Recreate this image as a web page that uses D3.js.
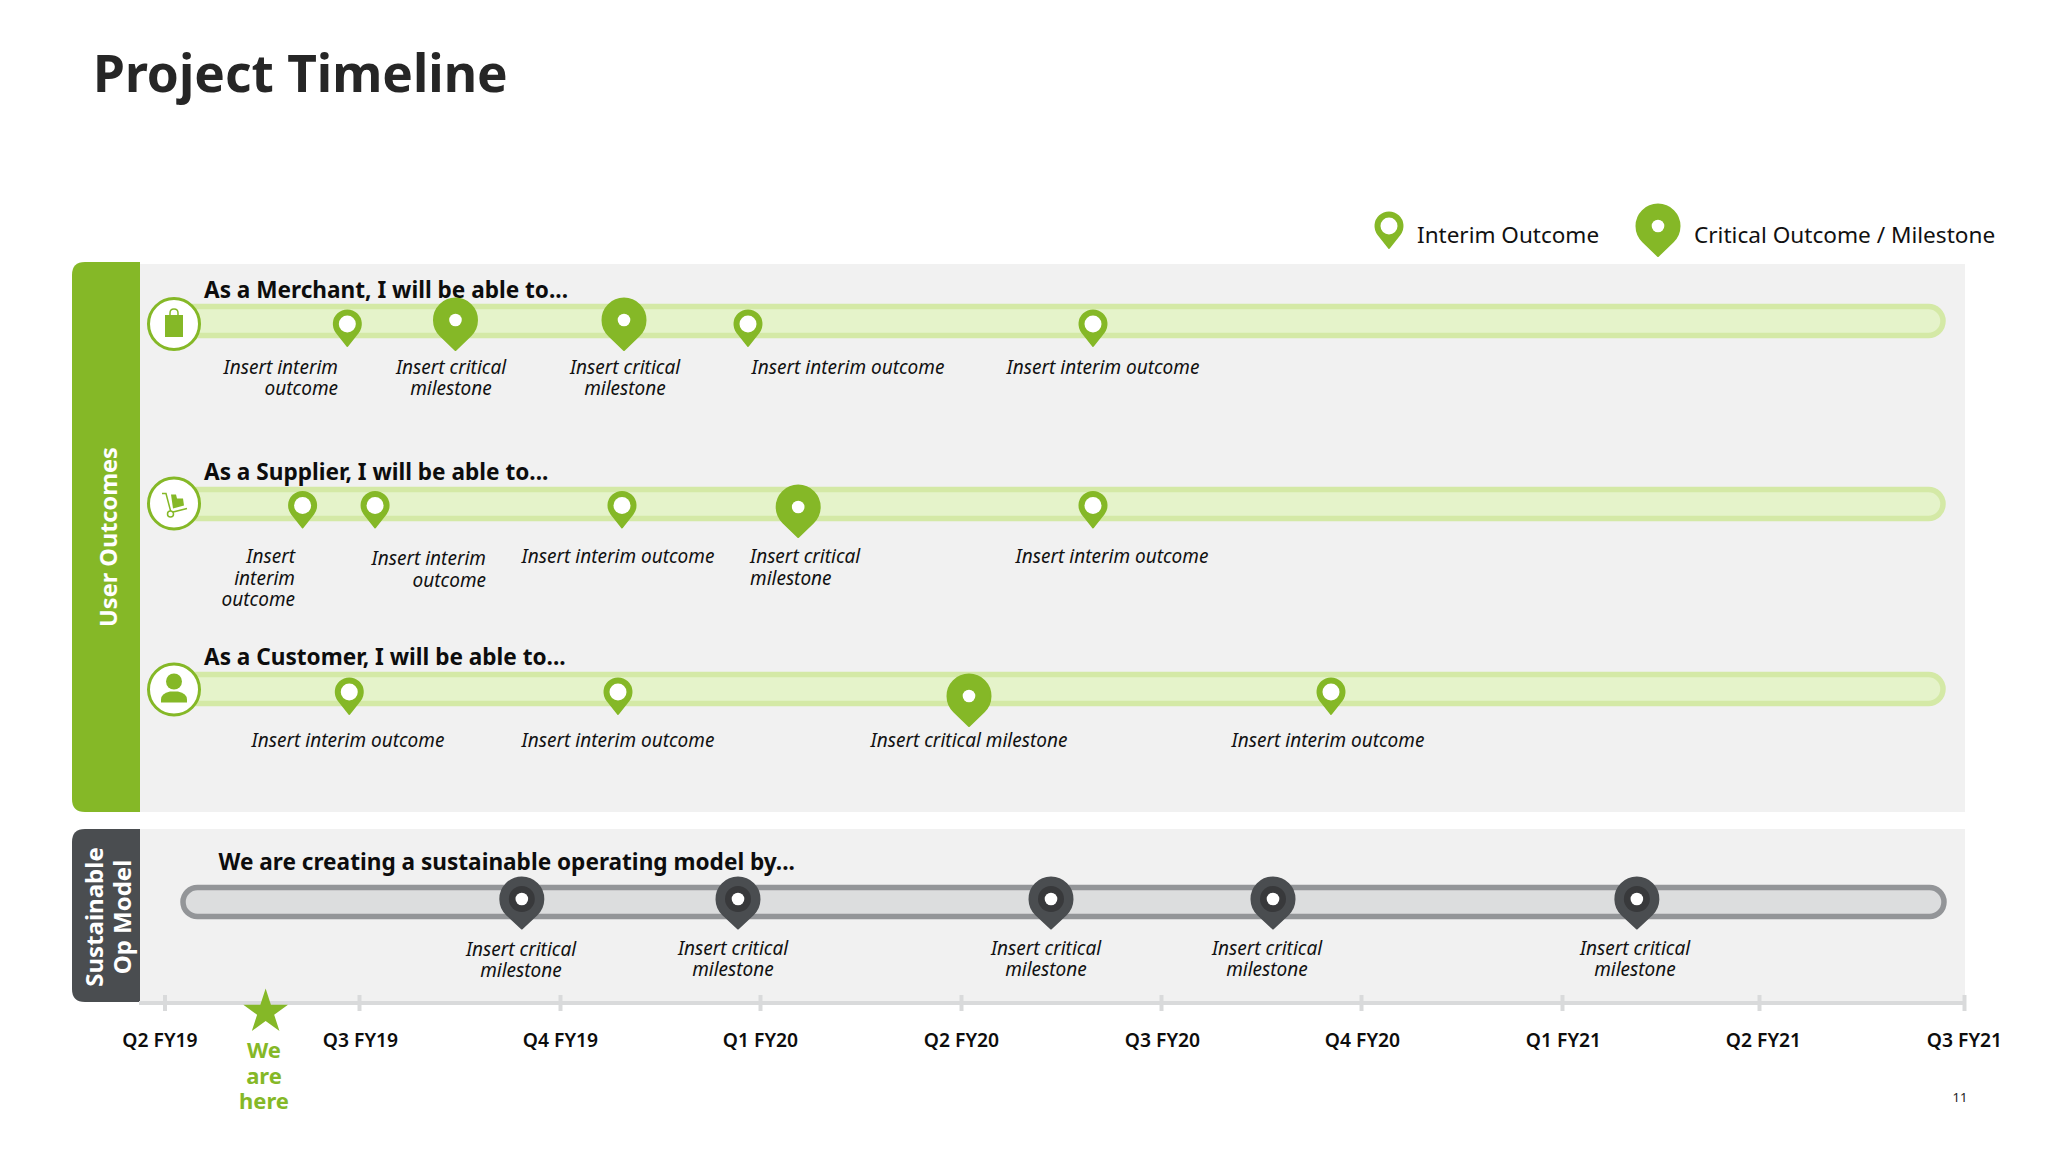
<!DOCTYPE html>
<html>
<head>
<meta charset="utf-8">
<title>Project Timeline</title>
<script src="https://cdn.jsdelivr.net/npm/d3@7/dist/d3.min.js"></script>
<style>
  html, body { margin: 0; padding: 0; background: #fff; }
  text { font-family: "Noto Sans", "Open Sans", sans-serif; }
</style>
</head>
<body>
<div id="chart"></div>
<script>
"use strict";

// quarter ticks
var quarters = ["Q2 FY19", "Q3 FY19", "Q4 FY19", "Q1 FY20", "Q2 FY20", "Q3 FY20", "Q4 FY20", "Q1 FY21", "Q2 FY21", "Q3 FY21"];

// milestones, position is in quarters from Q2 FY19. i = interim, c = critical
var merchantWhen = [0.94, 1.48, 2.32, 2.94, 4.66];
var merchantKind = ["i", "c", "c", "i", "i"];
var supplierWhen = [0.71, 1.08, 2.31, 3.19, 4.66];
var supplierKind = ["i", "i", "i", "c", "i"];
var customerWhen = [0.95, 2.29, 4.04, 5.85];
var customerKind = ["i", "i", "c", "i"];
var opModelWhen = [1.81, 2.89, 4.45, 5.56, 7.38];
var opModelKind = ["d", "d", "d", "d", "d"];
var weAreHereWhen = 0.52;

var rowHeadings = ["As a Merchant, I will be able to...", "As a Supplier, I will be able to...", "As a Customer, I will be able to..."];
var opHeading = "We are creating a sustainable operating model by...";

var GREEN = "#85b827", DARK = "#4a4d50", PANEL = "#f1f1f1";

var svg = d3.select("#chart").append("svg")
    .attr("width", 2048).attr("height", 1152)
    .style("display", "block");

var x = d3.scaleLinear()
    .domain(d3.range(quarters.length))
    .range([164.5, 359, 560, 760, 961, 1161, 1361, 1562, 1759, 1964]);

function pinPath(r, tip) {
    var a = Math.acos(r / tip), p = d3.path();
    p.moveTo(0, tip);
    p.arc(0, 0, r, Math.PI / 2 + a, Math.PI * 2.5 - a);
    p.closePath();
    return p.toString();
}

function drawPin(g, kind, px, py) {
    var pin = g.append("g").attr("transform", "translate(" + px + "," + py + ")");
    var col = kind === "d" ? DARK : GREEN;
    var shape = pin.append("path").attr("fill", col).attr("stroke", col)
        .attr("stroke-width", 2).attr("stroke-linejoin", "round");
    if (kind === "i") {
        shape.attr("d", pinPath(13.5, 22));
        pin.append("circle").attr("r", 8.5).attr("fill", "#fff");
    } else if (kind === "c") {
        shape.attr("d", pinPath(21.5, 30));
        pin.append("circle").attr("r", 6.3).attr("fill", "#fff");
    } else {
        shape.attr("d", pinPath(21.5, 29.5));
        pin.append("circle").attr("r", 13).attr("fill", "#38393b");
        pin.append("circle").attr("r", 6.3).attr("fill", "#fff");
    }
}

function leftTab(px, py, w, h, r) {
    return "M" + (px + w) + "," + py + "H" + (px + r) + "Q" + px + "," + py + " " + px + "," + (py + r) +
        "V" + (py + h - r) + "Q" + px + "," + (py + h) + " " + (px + r) + "," + (py + h) + "H" + (px + w) + "Z";
}

function multiline(g, lines, px, py, anchor) {
    var t = g.append("text")
        .attr("text-anchor", anchor)
        .attr("font-size", 19)
        .attr("font-style", "italic")
        .attr("fill", "#111");
    lines.forEach(function (s, i) {
        t.append("tspan").attr("x", px).attr("y", py + i * 21.5).text(s);
    });
}

// title
svg.append("text").attr("x", 93).attr("y", 92)
    .attr("font-size", 51.4).attr("font-weight", 700).attr("fill", "#262626")
    .text("Project Timeline");

// legend
drawPin(svg, "i", 1389, 226);
svg.append("text").attr("x", 1417).attr("y", 243).attr("font-size", 22.5).attr("fill", "#111").text("Interim Outcome");
drawPin(svg, "c", 1658, 226);
svg.append("text").attr("x", 1694).attr("y", 243).attr("font-size", 22.6).attr("fill", "#111").text("Critical Outcome / Milestone");

// panels
svg.append("rect").attr("x", 139).attr("y", 264).attr("width", 1826).attr("height", 548).attr("fill", PANEL);
svg.append("rect").attr("x", 139).attr("y", 829).attr("width", 1826).attr("height", 173).attr("fill", PANEL);
svg.append("path").attr("d", leftTab(72, 262, 68, 550, 13)).attr("fill", GREEN);
svg.append("path").attr("d", leftTab(72, 829, 68, 173, 13)).attr("fill", DARK);

svg.append("text").attr("transform", "translate(117,537) rotate(-90)")
    .attr("text-anchor", "middle").attr("font-size", 23.5).attr("font-weight", 700).attr("fill", "#fff")
    .text("User Outcomes");
var opTab = svg.append("text").attr("transform", "rotate(-90)")
    .attr("text-anchor", "middle").attr("font-size", 24).attr("font-weight", 700).attr("fill", "#fff");
opTab.append("tspan").attr("x", -917).attr("y", 103).text("Sustainable");
opTab.append("tspan").attr("x", -917).attr("y", 131).text("Op Model");

// outcome rows
var rows = [
    { head: rowHeadings[0], when: merchantWhen, kind: merchantKind, barY: 321, headY: 298, iY: 324, cY: 320, iconY: 324, icon: "bag" },
    { head: rowHeadings[1], when: supplierWhen, kind: supplierKind, barY: 504, headY: 480, iY: 505.5, cY: 507, iconY: 503.5, icon: "cart" },
    { head: rowHeadings[2], when: customerWhen, kind: customerKind, barY: 689, headY: 665, iY: 692, cY: 696, iconY: 689.5, icon: "person" }
];

rows.forEach(function (row) {
    var g = svg.append("g");
    g.append("rect").attr("x", 175).attr("y", row.barY - 14.5)
        .attr("width", 1768).attr("height", 29).attr("rx", 14.5)
        .attr("fill", "#e5f3ca").attr("stroke", "#d4e9a6").attr("stroke-width", 5.5);
    g.append("text").attr("x", 204).attr("y", row.headY)
        .attr("font-size", 22.6).attr("font-weight", 700).attr("fill", "#0d0d0d").text(row.head);

    var ic = g.append("g").attr("transform", "translate(174," + row.iconY + ")");
    ic.append("circle").attr("r", 25.5).attr("fill", "#fff").attr("stroke", GREEN).attr("stroke-width", 3);
    if (row.icon === "bag") {
        ic.append("rect").attr("x", -9).attr("y", -9).attr("width", 18).attr("height", 22).attr("fill", GREEN);
        ic.append("path").attr("d", "M-4,-8V-11Q-4,-15 0,-15Q4,-15 4,-11V-8").attr("fill", "none").attr("stroke", GREEN).attr("stroke-width", 1.5);
    } else if (row.icon === "cart") {
        ic.append("path").attr("d", "M-12,-10H-8L-3,9L13,5").attr("fill", "none").attr("stroke", GREEN).attr("stroke-width", 1.5);
        ic.append("circle").attr("cx", -3.5).attr("cy", 10.5).attr("r", 3).attr("fill", "#fff").attr("stroke", GREEN).attr("stroke-width", 1.5);
        ic.append("path").attr("d", "M-3,-9H2L3,-5H9L10,2L-1,5Z").attr("fill", GREEN);
    } else {
        ic.append("circle").attr("cy", -8).attr("r", 8).attr("fill", GREEN);
        ic.append("path").attr("d", "M-13,13V10Q-13,4 -4,2H4Q13,4 13,10V13Z").attr("fill", GREEN);
    }

    row.when.forEach(function (q, i) {
        var k = row.kind[i];
        drawPin(g, k, x(q), k === "c" ? row.cY : row.iY);
    });
});

// label text sits where the slide had it, not always centred under the pin
multiline(svg, ["Insert interim", "outcome"], 338, 373.5, "end");
multiline(svg, ["Insert critical", "milestone"], 451, 373.5, "middle");
multiline(svg, ["Insert critical", "milestone"], 625, 373.5, "middle");
multiline(svg, ["Insert interim outcome"], 848, 373.5, "middle");
multiline(svg, ["Insert interim outcome"], 1103, 373.5, "middle");

multiline(svg, ["Insert", "interim", "outcome"], 295, 563, "end");
multiline(svg, ["Insert interim", "outcome"], 486, 565, "end");
multiline(svg, ["Insert interim outcome"], 618, 563, "middle");
multiline(svg, ["Insert critical", "milestone"], 750, 563, "start");
multiline(svg, ["Insert interim outcome"], 1112, 563, "middle");

multiline(svg, ["Insert interim outcome"], 348, 747, "middle");
multiline(svg, ["Insert interim outcome"], 618, 747, "middle");
multiline(svg, ["Insert critical milestone"], 969, 747, "middle");
multiline(svg, ["Insert interim outcome"], 1328, 747, "middle");

// operating model row
var opBar = svg.append("g");
opBar.append("rect").attr("x", 183).attr("y", 887.5).attr("width", 1761).attr("height", 29).attr("rx", 14.5)
    .attr("fill", "#dcddde").attr("stroke", "#939598").attr("stroke-width", 5.5);
opBar.append("text").attr("x", 218.5).attr("y", 870)
    .attr("font-size", 22.6).attr("font-weight", 700).attr("fill", "#0d0d0d").text(opHeading);
opModelWhen.forEach(function (q, i) { drawPin(opBar, opModelKind[i], x(q), 899); });

multiline(svg, ["Insert critical", "milestone"], 521, 955.5, "middle");
multiline(svg, ["Insert critical", "milestone"], 733, 954.5, "middle");
multiline(svg, ["Insert critical", "milestone"], 1046, 954.5, "middle");
multiline(svg, ["Insert critical", "milestone"], 1267, 954.5, "middle");
multiline(svg, ["Insert critical", "milestone"], 1635, 954.5, "middle");

// time axis, line runs from the tab so it's drawn by hand under the axis
svg.append("line").attr("x1", 139).attr("x2", 1965).attr("y1", 1003).attr("y2", 1003)
    .attr("stroke", "#d9dadb").attr("stroke-width", 4);
var axisG = svg.append("g").attr("transform", "translate(0,1003)")
    .call(d3.axisBottom(x).tickValues(d3.range(quarters.length)).tickFormat(function (d) { return quarters[d]; }).tickSize(8));
axisG.select(".domain").remove();
axisG.selectAll(".tick line").attr("y1", -8).attr("stroke", "#d9dadb").attr("stroke-width", 4);
var labelNudge = [-5, 1, 0, 0, 0, 1, 1, 1, 4, 0];
axisG.selectAll(".tick text")
    .attr("y", 44).attr("dy", 0)
    .attr("font-family", '"Noto Sans", sans-serif').attr("font-size", 19.3).attr("font-weight", 600).attr("fill", "#0d0d0d")
    .attr("dx", function (d) { return labelNudge[d]; });

// we are here
var starX = x(weAreHereWhen);
svg.append("path").attr("transform", "translate(" + starX + ",1012)")
    .attr("d", d3.symbol().type(d3.symbolStar).size(620)()).attr("fill", GREEN);
var here = svg.append("text").attr("text-anchor", "middle").attr("font-size", 22).attr("font-weight", 700).attr("fill", GREEN);
["We", "are", "here"].forEach(function (s, i) {
    here.append("tspan").attr("x", 264).attr("y", 1058 + i * 25.5).text(s);
});

svg.append("text").attr("x", 1960).attr("y", 1102).attr("text-anchor", "middle").attr("font-size", 13).attr("fill", "#222").text("11");
</script>
</body>
</html>
